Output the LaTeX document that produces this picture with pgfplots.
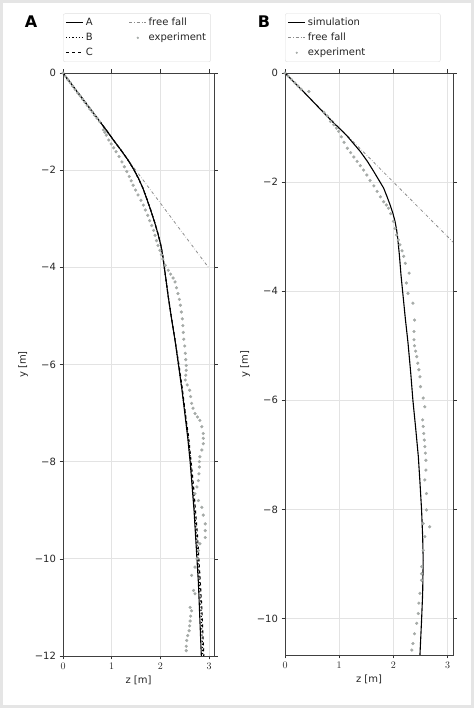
\documentclass[border=0pt]{standalone}
\usepackage{pgfplots}
\pgfplotsset{compat=1.18}
\usepackage{fontspec}
\setmainfont{DejaVu Sans}
\definecolor{expgray}{RGB}{165,170,167}
\definecolor{ffgray}{RGB}{140,140,140}
\begin{document}
\begin{tikzpicture}
\useasboundingbox (0,0) rectangle (474pt,708pt);
\draw[gray!20, line width=3pt] (1.5pt,1.5pt) rectangle (472.5pt,706.5pt);
\pgfplotsset{
  common/.style={
    anchor=south west, scale only axis,
    xmin=0, xmax=3.1, xtick={0,1,2,3},
    grid=major, grid style={gray!22, line width=0.7pt},
    axis line style={black!75, line width=0.8pt},
    tick style={black!80, line width=0.6pt},
    tick align=outside, major tick length=3.5pt,
    ticklabel style={font=\fontsize{10}{11}\selectfont, text=black!85},
    label style={font=\fontsize{10}{11}\selectfont, text=black!85},
    xlabel={z [m]}, ylabel={y [m]},
    legend cell align=left,
    legend style={draw=gray!25, rounded corners=2pt, font=\fontsize{10}{12}\selectfont, text=black!85, anchor=south west, inner sep=2.5pt, row sep=2pt},
  },
  expstyle/.style={only marks, mark=*, color=expgray, mark size=1.4pt, mark options={draw=none, fill=expgray}},
}
% ---------------- Panel A
\begin{axis}[common, at={(63pt,52pt)}, width=151pt, height=583pt,
  ymin=-12, ymax=0, ytick={-12,-10,-8,-6,-4,-2,0},
  yticklabels={−12,−10,−8,−6,−4,−2,0},
  legend columns=2,
  legend style={at={(0,1)}, yshift=11pt, /tikz/column 2/.style={column sep=34pt}},
]
\addplot[expstyle, forget plot] coordinates {
(0,0)(0.05,-0.07)(0.1,-0.14)(0.15,-0.2)(0.2,-0.27)(0.25,-0.34)(0.3,-0.41)(0.35,-0.47)(0.4,-0.54)(0.45,-0.6)(0.5,-0.67)(0.55,-0.74)(0.6,-0.8)(0.65,-0.87)(0.7,-0.93)(0.75,-1.0)
(0.83,-1.17)(0.86,-1.22)(0.89,-1.28)(0.94,-1.38)(0.99,-1.46)(1.04,-1.54)(1.09,-1.62)(1.15,-1.72)(1.21,-1.83)(1.26,-1.93)(1.31,-2.03)(1.36,-2.13)(1.40,-2.22)(1.44,-2.31)(1.49,-2.41)(1.54,-2.51)(1.60,-2.62)(1.65,-2.72)(1.69,-2.82)(1.74,-2.93)(1.78,-3.04)(1.82,-3.14)(1.86,-3.24)(1.89,-3.34)(1.92,-3.45)(1.95,-3.55)(1.99,-3.65)(2.02,-3.74)(2.05,-3.83)(2.10,-3.96)(2.16,-4.06)(2.21,-4.14)(2.26,-4.22)(2.30,-4.30)(2.33,-4.42)(2.36,-4.54)(2.39,-4.66)(2.41,-4.78)(2.43,-4.92)(2.45,-5.06)(2.46,-5.2)(2.47,-5.34)(2.48,-5.48)(2.50,-5.62)(2.51,-5.77)(2.52,-5.9)(2.53,-6.02)(2.53,-6.12)(2.52,-6.22)(2.51,-6.32)(2.55,-6.42)(2.60,-6.53)(2.62,-6.66)(2.64,-6.80)(2.67,-6.9)(2.71,-7.01)(2.76,-7.08)(2.81,-7.15)(2.85,-7.28)(2.88,-7.42)(2.88,-7.52)(2.88,-7.63)(2.85,-7.76)(2.81,-7.90)(2.80,-8.0)(2.80,-8.11)(2.79,-8.25)(2.78,-8.39)(2.75,-8.52)(2.71,-8.66)(2.78,-8.80)(2.85,-8.94)(2.88,-9.1)(2.92,-9.28)(2.92,-9.42)(2.92,-9.56)(2.81,-9.69)(2.78,-9.83)(2.75,-10.0)(2.71,-10.17)(2.64,-10.34)(2.68,-10.65)(2.71,-10.72)(2.61,-11.0)(2.64,-11.07)(2.62,-11.18)(2.61,-11.28)(2.60,-11.38)(2.59,-11.48)(2.56,-11.58)(2.54,-11.68)(2.53,-11.8)(2.53,-11.89)
};
\addplot[ffgray, dash dot, line width=0.8pt, forget plot] coordinates {(0,0)(3.0,-4.02)};
\addplot[black, dashed, line width=1.1pt, forget plot] coordinates {
(0,0)(0.25,-0.33)(0.5,-0.66)(0.75,-0.99)(0.9,-1.19)(1.05,-1.40)(1.2,-1.6)(1.34,-1.80)(1.45,-1.98)(1.55,-2.17)(1.64,-2.37)(1.72,-2.59)(1.80,-2.82)(1.88,-3.07)(1.95,-3.31)(2.01,-3.55)(2.05,-3.78)(2.08,-4.0)(2.12,-4.3)(2.16,-4.6)(2.22,-5.0)(2.30,-5.5)(2.38,-6.0)(2.45,-6.5)(2.51,-7.0)(2.58,-7.5)(2.63,-8.0)(2.68,-8.5)(2.72,-9.0)(2.76,-9.5)(2.79,-10.0)(2.82,-10.5)(2.85,-11.0)(2.87,-11.5)(2.89,-12.0)};
\addplot[black, dotted, line width=1.1pt, forget plot] coordinates {
(0,0)(0.25,-0.33)(0.5,-0.66)(0.75,-0.99)(0.9,-1.19)(1.05,-1.40)(1.2,-1.6)(1.34,-1.80)(1.45,-1.98)(1.55,-2.17)(1.64,-2.37)(1.72,-2.59)(1.80,-2.82)(1.88,-3.07)(1.95,-3.31)(2.01,-3.55)(2.05,-3.78)(2.08,-4.0)(2.12,-4.3)(2.16,-4.6)(2.22,-5.0)(2.30,-5.5)(2.37,-6.0)(2.44,-6.5)(2.51,-7.0)(2.57,-7.5)(2.62,-8.0)(2.66,-8.5)(2.70,-9.0)(2.74,-9.5)(2.77,-10.0)(2.80,-10.5)(2.83,-11.0)(2.85,-11.5)(2.87,-12.0)};
\addplot[black, line width=1.1pt, forget plot] coordinates {
(0,0)(0.25,-0.33)(0.5,-0.66)(0.75,-0.99)(0.9,-1.19)(1.05,-1.40)(1.2,-1.6)(1.34,-1.80)(1.45,-1.98)(1.55,-2.17)(1.64,-2.37)(1.72,-2.59)(1.80,-2.82)(1.88,-3.07)(1.95,-3.31)(2.01,-3.55)(2.05,-3.78)(2.08,-4.0)(2.12,-4.3)(2.16,-4.6)(2.22,-5.0)(2.30,-5.5)(2.37,-6.0)(2.44,-6.5)(2.50,-7.0)(2.56,-7.5)(2.61,-8.0)(2.65,-8.5)(2.69,-9.0)(2.72,-9.5)(2.75,-10.0)(2.78,-10.5)(2.80,-11.0)(2.82,-11.5)(2.84,-12.0)};
\addlegendimage{black, line width=1.1pt}
\addlegendentry{A}
\addlegendimage{ffgray, dash dot, line width=0.8pt}
\addlegendentry{free fall}
\addlegendimage{black, dotted, line width=1.1pt}
\addlegendentry{B}
\addlegendimage{only marks, mark=*, color=expgray, mark size=0.9pt, mark options={draw=none, fill=expgray}}
\addlegendentry{experiment}
\addlegendimage{black, dashed, line width=1.1pt}
\addlegendentry{C}
\end{axis}
\node[font=\fontsize{16}{16}\selectfont\bfseries] at (31pt,686pt) {A};
% ---------------- Panel B
\begin{axis}[common, at={(285pt,53pt)}, width=168pt, height=582pt,
  ymin=-10.67, ymax=0, ytick={-10,-8,-6,-4,-2,0},
  yticklabels={−10,−8,−6,−4,−2,0},
  legend style={at={(0,1)}, yshift=11pt},
]
\addplot[expstyle, forget plot] coordinates {
(0,0)(0.06,-0.06)(0.12,-0.12)(0.18,-0.18)(0.24,-0.24)(0.30,-0.30)(0.44,-0.34)(0.72,-0.72)(0.78,-0.79)(0.84,-0.89)(0.90,-0.95)(0.95,-1.01)(0.99,-1.07)(1.04,-1.17)(1.09,-1.27)(1.15,-1.38)(1.21,-1.46)(1.27,-1.54)(1.33,-1.62)(1.39,-1.70)(1.45,-1.78)(1.51,-1.87)(1.57,-1.97)(1.64,-2.07)(1.70,-2.17)(1.76,-2.27)(1.82,-2.36)(1.87,-2.42)(1.91,-2.48)(1.95,-2.58)(2.0,-2.72)(2.03,-2.85)(2.06,-2.97)(2.09,-3.06)(2.12,-3.15)(2.16,-3.26)(2.19,-3.36)(2.22,-3.49)(2.29,-3.67)(2.24,-3.85)(2.27,-4.04)(2.36,-4.22)(2.39,-4.53)(2.38,-4.74)(2.38,-4.89)(2.39,-5.0)(2.41,-5.1)(2.43,-5.2)(2.45,-5.32)(2.47,-5.44)(2.49,-5.57)(2.50,-5.75)(2.55,-5.96)(2.58,-6.12)(2.54,-6.36)(2.55,-6.48)(2.56,-6.61)(2.57,-6.73)(2.58,-6.85)(2.59,-6.97)(2.60,-7.10)(2.60,-7.28)(2.58,-7.46)(2.61,-7.71)(2.61,-8.01)(2.55,-8.26)(2.67,-8.32)(2.58,-8.50)(2.55,-8.75)(2.52,-9.05)(2.52,-9.18)(2.52,-9.30)(2.49,-9.54)(2.47,-9.72)(2.46,-9.91)(2.43,-10.09)(2.39,-10.28)(2.36,-10.46)(2.34,-10.58)
};
\addplot[ffgray, dash dot, line width=0.8pt, forget plot] coordinates {(0,0)(3.1,-3.1)};
\addplot[black, line width=1.1pt, forget plot] coordinates {
(0,0)(0.3,-0.3)(0.6,-0.61)(0.90,-0.92)(1.03,-1.04)(1.15,-1.16)(1.27,-1.30)(1.39,-1.44)(1.52,-1.62)(1.64,-1.81)(1.73,-1.96)(1.82,-2.11)(1.88,-2.26)(1.94,-2.42)(1.99,-2.57)(2.03,-2.72)(2.06,-2.88)(2.08,-3.03)(2.11,-3.33)(2.14,-3.70)(2.17,-4.0)(2.22,-4.5)(2.27,-4.95)(2.32,-5.5)(2.36,-6.0)(2.41,-6.5)(2.46,-7.03)(2.49,-7.5)(2.52,-8.01)(2.54,-8.5)(2.55,-8.93)(2.54,-9.54)(2.52,-10.03)(2.49,-10.67)};
\addlegendimage{black, line width=1.1pt}
\addlegendentry{\makebox[128pt][l]{simulation}}
\addlegendimage{ffgray, dash dot, line width=0.8pt}
\addlegendentry{free fall}
\addlegendimage{only marks, mark=*, color=expgray, mark size=0.9pt, mark options={draw=none, fill=expgray}}
\addlegendentry{experiment}
\end{axis}
\node[font=\fontsize{16}{16}\selectfont\bfseries] at (264pt,686pt) {B};
\end{tikzpicture}
\end{document}
